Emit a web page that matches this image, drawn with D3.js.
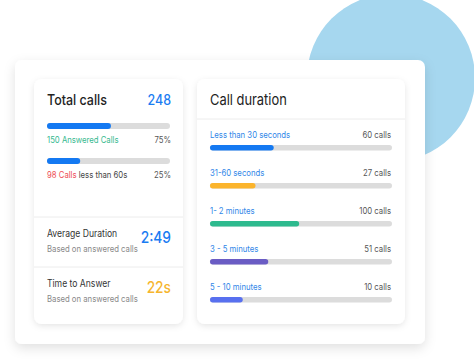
<!DOCTYPE html>
<html>
<head>
<meta charset="utf-8">
<script src="https://cdn.jsdelivr.net/npm/d3@7"></script>
<style>
  html, body { margin: 0; padding: 0; background: #fff; }
  svg { display: block; font-family: Inter, "Noto Sans", sans-serif; }
</style>
</head>
<body>
<div id="chart"></div>
<script>
// data
var totalCalls = "248";
var answerLabels = ["150 Answered Calls", "98 Calls"];
var answerSuffix = ["", " less than 60s"];
var answerPercent = ["75%", "25%"];
var answerFill = [52, 27]; // bar fill, % of track

var statLabels = ["Average Duration", "Time to Answer"];
var statNotes = ["Based on answered calls", "Based on answered calls"];
var statValues = ["2:49", "22s"];

var durationLabels = ["Less than 30 seconds", "31-60 seconds", "1- 2 minutes", "3 - 5 minutes", "5 - 10 minutes"];
var durationCalls = [60, 27, 100, 51, 10];
var durationFill = [35, 25, 49, 32, 18]; // bar fill, % of track

// styles
var durationColors = ["#1479f2", "#fbb42c", "#2dba8e", "#6a5cc4", "#5870ef"];
var answerColors = ["#35b98f", "#ee4d55"];
var statColors = ["#1a7cf2", "#f6b52e"];

var width = 474, height = 361;
var squeeze = 0.86; // the font in the picture is narrower than Inter

var svg = d3.select("#chart").append("svg")
  .attr("width", width)
  .attr("height", height);

// texte un peu condense
function label(sel, x, y, size) {
  return sel.append("text")
    .attr("transform", "translate(" + x + "," + y + ") scale(" + squeeze + ",1)")
    .attr("font-size", size);
}

var defs = svg.append("defs");
var f1 = defs.append("filter").attr("id", "shadowBig")
  .attr("x", "-20%").attr("y", "-20%").attr("width", "140%").attr("height", "140%");
f1.append("feDropShadow").attr("dx", 0).attr("dy", 4).attr("stdDeviation", 6)
  .attr("flood-color", "#000").attr("flood-opacity", 0.12);
var f2 = defs.append("filter").attr("id", "shadowCard")
  .attr("x", "-20%").attr("y", "-20%").attr("width", "140%").attr("height", "140%");
f2.append("feDropShadow").attr("dx", 0).attr("dy", 2).attr("stdDeviation", 3)
  .attr("flood-color", "#000").attr("flood-opacity", 0.10);

// blue circle behind
svg.append("circle")
  .attr("cx", 391).attr("cy", 78).attr("r", 84)
  .attr("fill", "#a6d7ef");

// outer panel
svg.append("rect")
  .attr("x", 15).attr("y", 60).attr("width", 410).attr("height", 284)
  .attr("rx", 7).attr("fill", "#fff")
  .attr("filter", "url(#shadowBig)");

// ---- left card ----
var left = svg.append("g").attr("transform", "translate(34,79)");
left.append("rect")
  .attr("width", 149).attr("height", 245).attr("rx", 8)
  .attr("fill", "#fff").attr("filter", "url(#shadowCard)");

label(left, 13, 26, 14.5)
  .attr("font-weight", 500).attr("fill", "#222")
  .text("Total calls");
label(left, 137, 26, 14.5)
  .attr("text-anchor", "end").attr("font-weight", 500).attr("fill", "#1a7cf2")
  .text(totalCalls);

var xLeft = d3.scaleLinear().domain([0, 100]).range([13, 136]);

var ans = left.selectAll(".ans")
  .data(answerLabels)
  .join("g")
  .attr("class", "ans")
  .attr("transform", function(d, i) { return "translate(0," + (44 + i * 35) + ")"; });

ans.append("rect")
  .attr("x", xLeft(0)).attr("y", 0)
  .attr("width", xLeft(100) - xLeft(0)).attr("height", 6).attr("rx", 3)
  .attr("fill", "#dcdcdc");
ans.append("rect")
  .attr("x", xLeft(0)).attr("y", 0)
  .attr("width", function(d, i) { return xLeft(answerFill[i]) - xLeft(0); })
  .attr("height", 6).attr("rx", 3)
  .attr("fill", "#1479f2");

ans.each(function(d, i) {
  var g = d3.select(this);
  var t = label(g, 13, 20, 9);
  t.append("tspan").attr("fill", answerColors[i]).text(d);
  t.append("tspan").attr("fill", "#444").text(answerSuffix[i]);
  label(g, 137, 20, 9)
    .attr("text-anchor", "end").attr("fill", "#555")
    .text(answerPercent[i]);
});

// stats rows
var stat = left.selectAll(".stat")
  .data(statLabels)
  .join("g")
  .attr("class", "stat")
  .attr("transform", function(d, i) { return "translate(0," + (138 + i * 50) + ")"; });

stat.append("line")
  .attr("x1", 0).attr("x2", 149).attr("y1", 0).attr("y2", 0)
  .attr("stroke", "#ececec").attr("stroke-width", 1);

stat.each(function(d, i) {
  var g = d3.select(this);
  label(g, 13, 20, 10).attr("fill", "#333").text(d);
  label(g, 13, 35, 9).attr("fill", "#888").text(statNotes[i]);
  label(g, 137, 26, 16)
    .attr("text-anchor", "end").attr("font-weight", 500)
    .attr("fill", statColors[i])
    .text(statValues[i]);
});

// ---- right card ----
var right = svg.append("g").attr("transform", "translate(197,79)");
right.append("rect")
  .attr("width", 208).attr("height", 245).attr("rx", 8)
  .attr("fill", "#fff").attr("filter", "url(#shadowCard)");

label(right, 13, 26, 15)
  .attr("font-weight", 400).attr("fill", "#222")
  .text("Call duration");
right.append("line")
  .attr("x1", 0).attr("x2", 208).attr("y1", 40).attr("y2", 40)
  .attr("stroke", "#ececec");

var xRight = d3.scaleLinear().domain([0, 100]).range([13, 195]);
var yRow = d3.scaleBand().domain(durationLabels).range([50, 240]).padding(0);

var row = right.selectAll(".row")
  .data(durationLabels)
  .join("g")
  .attr("class", "row")
  .attr("transform", function(d) { return "translate(0," + yRow(d) + ")"; });

row.each(function(d, i) {
  var g = d3.select(this);
  label(g, 13, 9, 9).attr("fill", "#2f86e8").text(d);
  label(g, 194, 9, 9)
    .attr("text-anchor", "end").attr("fill", "#555")
    .text(durationCalls[i] + " calls");
});

row.append("rect")
  .attr("x", xRight(0)).attr("y", 16)
  .attr("width", xRight(100) - xRight(0)).attr("height", 5.5).attr("rx", 2.75)
  .attr("fill", "#dcdcdc");
row.append("rect")
  .attr("x", xRight(0)).attr("y", 16)
  .attr("width", function(d, i) { return xRight(durationFill[i]) - xRight(0); })
  .attr("height", 5.5).attr("rx", 2.75)
  .attr("fill", function(d, i) { return durationColors[i]; });
</script>
</body>
</html>
